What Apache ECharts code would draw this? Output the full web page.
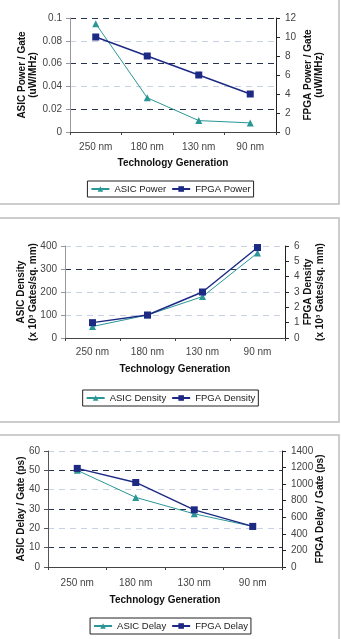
<!DOCTYPE html>
<html>
<head>
<meta charset="utf-8">
<script src="https://cdn.jsdelivr.net/npm/echarts@6/dist/echarts.min.js"></script>
<style>
  html, body { margin: 0; padding: 0; background: #fff; }
  #chart { width: 341px; height: 639px; }
</style>
</head>
<body>
<div id="chart"></div>
<script>
// Technology nodes shared by all three panels
const nodes = ['250 nm', '180 nm', '130 nm', '90 nm'];

// Power per gate
const asicPower = [0.095, 0.03, 0.01, 0.008];   // uW/MHz
const fpgaPower = [10, 8, 6, 4];                // uW/MHz

// Density
const asicDensity = [50, 100, 180, 370];        // x 10^3 gates / sq. mm
const fpgaDensity = [1, 1.5, 3, 5.9];           // x 10^3 gates / sq. mm

// Delay per gate
const asicDelay = [50, 36, 27.5, 21];           // ps
const fpgaDelay = [1190, 1020, 690, 490];       // ps

const TEAL = '#2b9696';
const NAVY = '#1c2a84';
const DARK_DASH = '#27324f';
const LIGHT_DASH = '#c9d2e4';
const FONT = 'Liberation Sans, Arial, sans-serif';

const chart = echarts.init(document.getElementById('chart'), null, { renderer: 'canvas' });

const plainNumber = v => String(v);

function nameStyle(lineHeight) {
  return { fontFamily: FONT, fontSize: 10, fontWeight: 'bold', color: '#111', lineHeight };
}

function leftAxis(gridIndex, min, max, interval, name, gap, lh, gridColors, axisColor) {
  return {
    type: 'value', gridIndex, position: 'left', min, max, interval,
    name, nameLocation: 'middle', nameRotate: 90, nameGap: gap, nameMoveOverlap: false,
    nameTextStyle: nameStyle(lh),
    axisLine: { show: true, lineStyle: { color: axisColor, width: 1 } },
    axisTick: { show: true, length: 4, lineStyle: { color: axisColor } },
    axisLabel: { fontFamily: FONT, fontSize: 10, color: '#444', margin: 8, formatter: plainNumber },
    splitLine: { show: true, lineStyle: { type: [6, 5], color: gridColors, width: 1 } }
  };
}

function rightAxis(gridIndex, min, max, interval, name, gap, lh) {
  return {
    type: 'value', gridIndex, position: 'right', min, max, interval,
    name, nameLocation: 'middle', nameRotate: 90, nameGap: gap, nameMoveOverlap: false,
    nameTextStyle: nameStyle(lh),
    axisLine: { show: true, lineStyle: { color: '#222', width: 1 } },
    axisTick: { show: true, length: 4, lineStyle: { color: '#222' } },
    axisLabel: { fontFamily: FONT, fontSize: 10, color: '#444', margin: 9, formatter: plainNumber },
    splitLine: { show: false }
  };
}

function catAxis(gridIndex, labelMargin, nameGap) {
  return {
    type: 'category', gridIndex, data: nodes, boundaryGap: true,
    name: 'Technology Generation', nameLocation: 'middle', nameGap, nameMoveOverlap: false,
    nameTextStyle: { fontFamily: FONT, fontSize: 10, fontWeight: 'bold', color: '#111' },
    axisLine: { show: true, lineStyle: { color: '#444', width: 1 } },
    axisTick: { show: true, length: 3, lineStyle: { color: '#444' } },
    axisLabel: { fontFamily: FONT, fontSize: 10, color: '#444', margin: labelMargin }
  };
}

function lineSeries(name, data, xi, yi, color, symbol, width) {
  return {
    type: 'line', name, data, xAxisIndex: xi, yAxisIndex: yi,
    symbol, symbolSize: 7,
    lineStyle: { color, width },
    itemStyle: { color },
    animation: false
  };
}

function legendBox(names, top) {
  return {
    data: names, top, left: 'center',
    orient: 'horizontal',
    itemWidth: 18, itemHeight: 7, itemGap: 5,
    padding: [3, 3],
    borderColor: '#222', borderWidth: 1, backgroundColor: '#fff',
    textStyle: { fontFamily: FONT, fontSize: 9.5, color: '#222' }
  };
}

// Panel frames
function frame(y, h) {
  return {
    type: 'rect', shape: { x: -2, y, width: 341, height: h },
    style: { fill: 'none', stroke: '#bdbdbd', lineWidth: 1.5 }, silent: true
  };
}

const option = {
  backgroundColor: '#fff',
  animation: false,
  graphic: [frame(-2, 206), frame(218, 204), frame(435, 206)],
  grid: [
    { left: 70, top: 18, width: 206, height: 114 },
    { left: 65, top: 246, width: 220, height: 92 },
    { left: 48, top: 451, width: 234, height: 116 }
  ],
  xAxis: [
    catAxis(0, 10, 26),
    catAxis(1, 9, 26),
    catAxis(2, 11, 28)
  ],
  yAxis: [
    leftAxis(0, 0, 0.1, 0.02, 'ASIC Power / Gate\n(uW/MHz)', 31, 11, [LIGHT_DASH, DARK_DASH], '#999'),
    rightAxis(0, 0, 12, 2, 'FPGA Power / Gate\n(uW/MHz)', 27, 11),
    leftAxis(1, 0, 400, 100, 'ASIC Density\n(x 10³ Gates/sq. mm)', 26, 12,
      [LIGHT_DASH, LIGHT_DASH, LIGHT_DASH, DARK_DASH, LIGHT_DASH], '#999'),
    rightAxis(1, 0, 6, 1, 'FPGA Density\n(x 10³ Gates/sq. mm)', 17, 12),
    leftAxis(2, 0, 60, 10, 'ASIC Delay / Gate (ps)', 21, 12, [LIGHT_DASH, DARK_DASH], '#555'),
    rightAxis(2, 0, 1400, 200, 'FPGA Delay / Gate (ps)', 32, 12)
  ],
  legend: [
    legendBox(['ASIC Power', 'FPGA Power'], 181),
    legendBox(['ASIC Density', 'FPGA Density'], 390),
    legendBox(['ASIC Delay', 'FPGA Delay'], 618)
  ],
  series: [
    lineSeries('ASIC Power', asicPower, 0, 0, TEAL, 'triangle', 1),
    lineSeries('FPGA Power', fpgaPower, 0, 1, NAVY, 'rect', 1.4),
    lineSeries('ASIC Density', asicDensity, 1, 2, TEAL, 'triangle', 1),
    lineSeries('FPGA Density', fpgaDensity, 1, 3, NAVY, 'rect', 1.4),
    lineSeries('ASIC Delay', asicDelay, 2, 4, TEAL, 'triangle', 1),
    lineSeries('FPGA Delay', fpgaDelay, 2, 5, NAVY, 'rect', 1.4)
  ]
};

chart.setOption(option);
</script>
</body>
</html>
